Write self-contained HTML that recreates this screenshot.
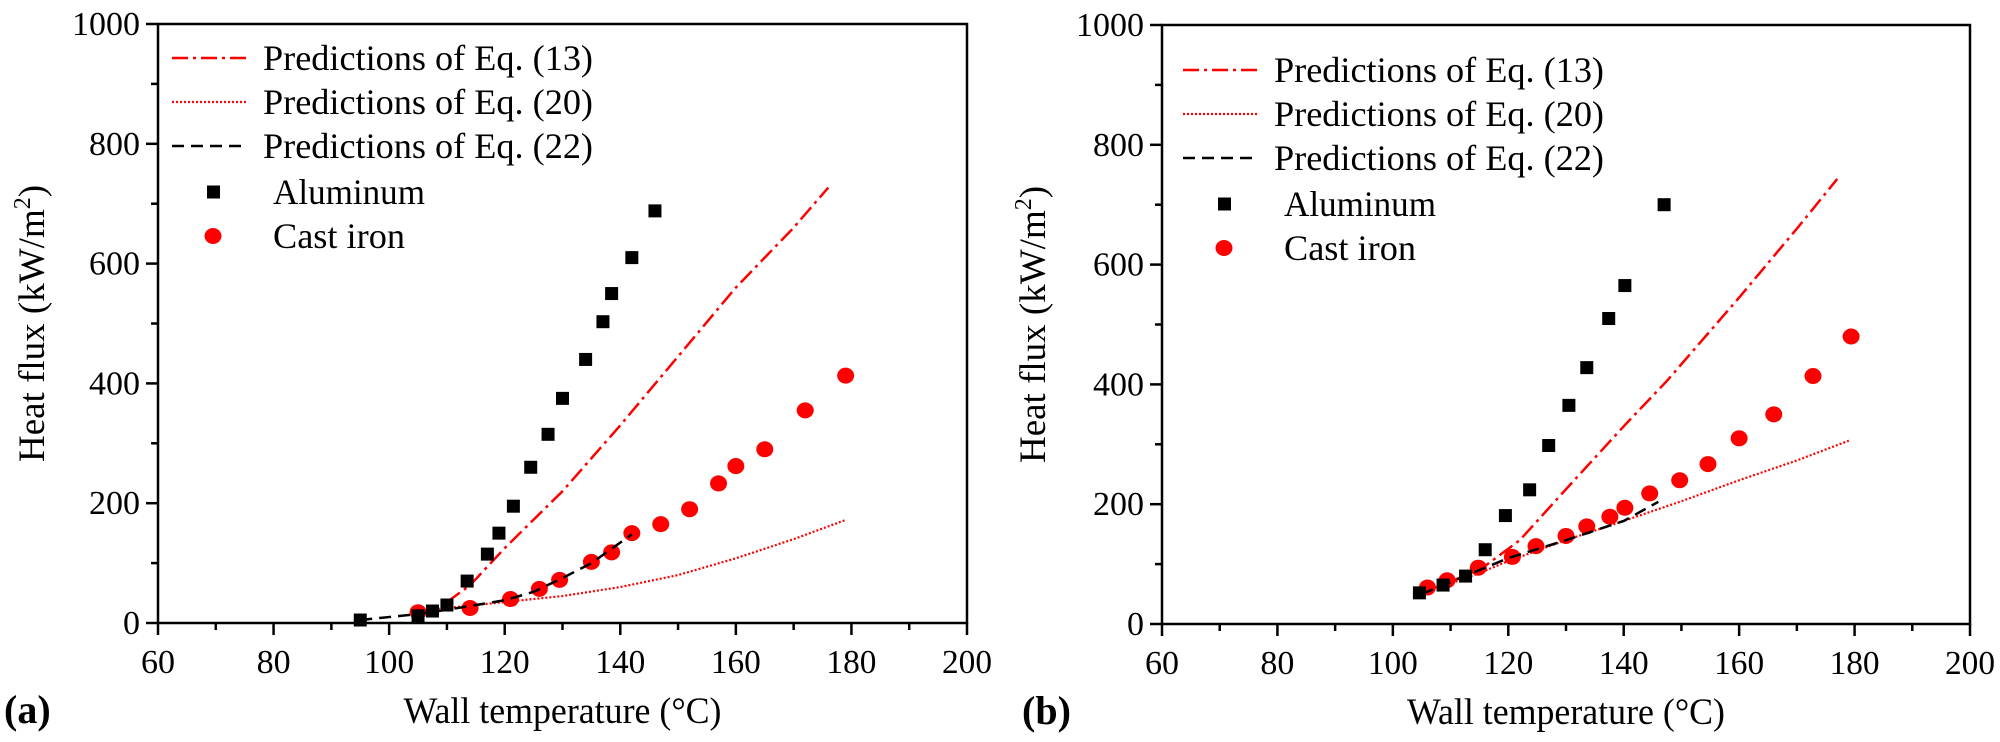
<!DOCTYPE html>
<html><head><meta charset="utf-8"><style>
html,body{margin:0;padding:0;background:#fff;}
svg, svg text{font-family:"Liberation Serif","DejaVu Serif","Times New Roman",serif;}
</style></head><body>
<svg id="s" width="2000" height="737" xmlns="http://www.w3.org/2000/svg"></svg>
<script>
const S=document.getElementById('s');let h='';
const F='font-family="Liberation Serif, DejaVu Serif, Times New Roman, serif"';
function panel(o){
 const {x0,x1,yT,yB}=o;
 const X=v=>x0+(v-60)*(x1-x0)/140, Y=v=>yB-v*(yB-yT)/1000;
 h+=`<rect x="${x0}" y="${yT}" width="${x1-x0}" height="${yB-yT}" fill="none" stroke="#000" stroke-width="2.5"/>`;
 for(let v=60;v<=200;v+=10){const x=X(v),L=(v%20==0)?12:7;h+=`<line x1="${x}" y1="${yB}" x2="${x}" y2="${yB+L}" stroke="#000" stroke-width="2.5"/>`;
  if(v%20==0)h+=`<text ${F} x="${x}" y="${yB+50}" font-size="34" text-anchor="middle" textLength="${v>=100?50:34}" lengthAdjust="spacingAndGlyphs">${v}</text>`;}
 for(let v=0;v<=1000;v+=100){const y=Y(v),L=(v%200==0)?12:7;h+=`<line x1="${x0}" y1="${y}" x2="${x0-L}" y2="${y}" stroke="#000" stroke-width="2.5"/>`;
  if(v%200==0){const n=String(v).length;h+=`<text ${F} x="${x0-18}" y="${y+11}" font-size="34" text-anchor="end" textLength="${n*17}" lengthAdjust="spacingAndGlyphs">${v}</text>`;}}
 const pl=(pts,st)=>{h+=`<polyline fill="none" points="${pts.map(p=>X(p[0])+','+Y(p[1])).join(' ')}" ${st}/>`;};
 const s13='stroke="#f00" stroke-width="2.5" stroke-dasharray="16,5,3,5"', s20='stroke="#f00" stroke-width="2.2" stroke-dasharray="2,2"', s22='stroke="#000" stroke-width="2.5" stroke-dasharray="12,7"';
 pl(o.e13,s13);pl(o.e20,s20);
 o.ci.forEach(p=>h+=`<ellipse cx="${X(p[0])}" cy="${Y(p[1])}" rx="8.5" ry="8" fill="#f00"/>`);
 o.al.forEach(p=>h+=`<rect x="${X(p[0])-6.5}" y="${Y(p[1])-6.5}" width="13" height="13" fill="#000"/>`);
 pl(o.e22,s22);
 const lx=o.lx, ly=o.ly;
 const rows=[[s13,'Predictions of Eq. (13)'],[s20,'Predictions of Eq. (20)'],[s22,'Predictions of Eq. (22)']];
 rows.forEach((r,i)=>{const y=ly+i*44;h+=`<line x1="${lx}" y1="${y}" x2="${lx+75}" y2="${y}" ${r[0]}/><text ${F} x="${lx+91}" y="${y+12}" font-size="36" textLength="330" lengthAdjust="spacingAndGlyphs">${r[1]}</text>`;});
 h+=`<rect x="${lx+35}" y="${ly+134-6.5}" width="13" height="13" fill="#000"/><text ${F} x="${lx+101}" y="${ly+134+12}" font-size="36" textLength="152" lengthAdjust="spacingAndGlyphs">Aluminum</text>`;
 h+=`<ellipse cx="${lx+41}" cy="${ly+178}" rx="8.5" ry="8" fill="#f00"/><text ${F} x="${lx+101}" y="${ly+178+12}" font-size="36" textLength="132" lengthAdjust="spacingAndGlyphs">Cast iron</text>`;
 const cx=(x0+x1)/2;
 h+=`<text ${F} x="${cx}" y="${yB+100}" font-size="37" text-anchor="middle" textLength="318" lengthAdjust="spacingAndGlyphs">Wall temperature (°C)</text>`;
 h+=`<text ${F} transform="translate(${o.ylx},${(yT+yB)/2}) rotate(-90)" font-size="37" text-anchor="middle">Heat flux (kW/m<tspan font-size="24" dy="-14">2</tspan><tspan dy="14">)</tspan></text>`;
 h+=`<text ${F} x="${o.lbx}" y="${yB+100}" font-size="40" font-weight="bold">${o.lab}</text>`;
}
panel({x0:158,x1:967,yT:24,yB:623,lx:172,ly:58,ylx:44,lbx:4,lab:'(a)',
 al:[[95,5],[105,12],[107.5,20],[110,30],[113.5,70],[117,115],[119,150],[121.5,195],[124.5,260],[127.5,315],[130,375],[134,440],[137,503],[138.5,550],[142,610],[146,688]],
 ci:[[105,18],[114,25],[121,40],[126,57],[129.5,72],[135,102],[138.5,118],[142,150],[147,165],[152,190],[157,233],[160,262],[165,290],[172,355],[179,413]],
 e13:[[110,35],[114,63],[120,125],[130,220],[140,330],[150,445],[160,560],[170,660],[176,727]],
 e20:[[105,20],[110,25],[120,35],[130,45],[140,60],[150,80],[160,108],[170,140],[179,172]],
 e22:[[95,5],[105,15],[110,22],[115,30],[120,38],[125,52],[130,75],[135,100],[142,148]]});
panel({x0:1162,x1:1970,yT:25,yB:624,lx:1183,ly:70,ylx:1045,lbx:1022,lab:'(b)',
 al:[[104.6,52],[108.7,65],[112.6,80],[116,124],[119.5,181],[123.7,224],[127,298],[130.5,365],[133.6,428],[137.4,510],[140.2,565],[147,700]],
 ci:[[106,61],[109.4,73],[114.8,94],[120.7,112],[124.8,130],[130,147],[133.6,163],[137.6,179],[140.2,194],[144.5,218],[149.7,240],[154.6,267],[160,310],[166,350],[172.8,414],[179.4,480]],
 e13:[[105,52],[115,90],[122,140],[130,225],[140,330],[147.5,406],[160,545],[170,660],[177,743]],
 e20:[[105,50],[115,85],[120,105],[130,140],[140,172],[150,205],[160,240],[170,273],[179,306]],
 e22:[[105,50],[120,110],[130,140],[140,172],[146,204]]});
S.innerHTML=h;
</script>
</body></html>
